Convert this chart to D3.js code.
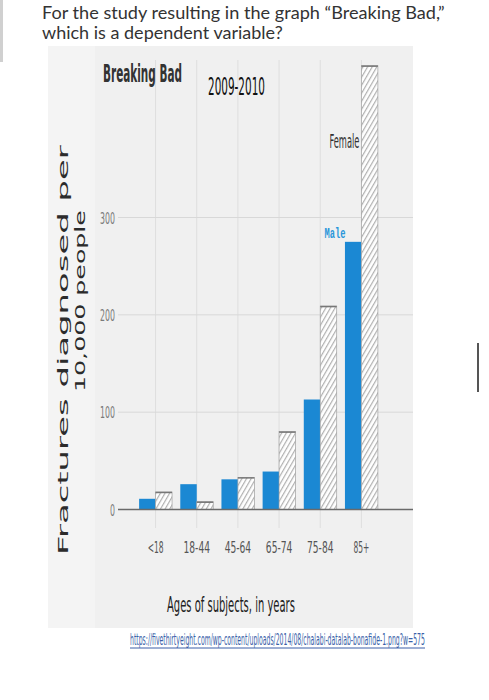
<!DOCTYPE html>
<html>
<head>
<meta charset="utf-8">
<script src="https://cdn.jsdelivr.net/npm/d3@7"></script>
<style>
  html, body { margin: 0; padding: 0; background: #ffffff; }
  svg { display: block; }
</style>
</head>
<body>
<div id="chart"></div>
<script>
// ---- data ----
const categories = ["<18", "18-44", "45-64", "65-74", "75-84", "85+"];
const maleValues = [11, 26, 31, 39, 113, 275];
const femaleValues = [18, 8, 33, 80, 209, 456];
const yTickValues = [0, 100, 200, 300];
const seriesNames = ["Male", "Female"];

const questionLines = [
  "For the study resulting in the graph \u201cBreaking Bad,\u201d",
  "which is a dependent variable?"
];
const chartTitle = "Breaking Bad";
const chartSubtitle = "2009-2010";
const yTitleLines = ["Fractures diagnosed per", "10,000 people"];
const xTitle = "Ages of subjects, in years";
const sourceUrl = "https://fivethirtyeight.com/wp-content/uploads/2014/08/chalabi-datalab-bonafide-1.png?w=575";

const rows = categories.map((c, i) => ({ cat: c, Male: maleValues[i], Female: femaleValues[i] }));

// ---- layout ----
const W = 489, H = 700;
const svg = d3.select("#chart").append("svg").attr("width", W).attr("height", H);

const narrow = "'DejaVu Sans Condensed', 'Liberation Sans', sans-serif";

// text helper: draw text then squeeze/stretch it horizontally to a target width
function fitText(parent, str, x, y, width, opts) {
  const o = Object.assign({ anchor: "start", family: narrow, size: 13, fill: "#333", weight: "normal", rotate: 0 }, opts || {});
  const t = parent.append("text")
    .attr("text-anchor", o.anchor)
    .attr("font-family", o.family)
    .attr("font-size", o.size)
    .attr("font-weight", o.weight)
    .attr("fill", o.fill)
    .text(str);
  const len = t.node().getComputedTextLength() || 1;
  const sx = width / len;
  t.attr("transform", `translate(${x},${y}) rotate(${o.rotate}) scale(${sx},1)`);
  return t;
}

const defs = svg.append("defs");
const pat = defs.append("pattern")
  .attr("id", "hatch").attr("patternUnits", "userSpaceOnUse")
  .attr("width", 4).attr("height", 4)
  .attr("patternTransform", "rotate(30)");
pat.append("rect").attr("width", 4).attr("height", 4).attr("fill", "#ffffff");
pat.append("rect").attr("x", 0).attr("y", 0).attr("width", 1.2).attr("height", 4).attr("fill", "#b0b0b0");

// page decorations
svg.append("rect").attr("x", 0).attr("y", 0).attr("width", 3).attr("height", 62).attr("fill", "#d0d0d0");
svg.append("rect").attr("x", 477).attr("y", 343).attr("width", 2).attr("height", 49).attr("fill", "#555");

// question text
const qWidths = [403, 241];
questionLines.forEach((line, i) => {
  fitText(svg, line, 42, 19 + i * 20, qWidths[i], { family: "Lato, 'Noto Sans', sans-serif", size: 17, fill: "#333" });
});

// image panel
svg.append("rect").attr("x", 48).attr("y", 46).attr("width", 365).attr("height", 582).attr("fill", "#f4f4f4");
svg.append("rect").attr("x", 95).attr("y", 46).attr("width", 318).attr("height", 582).attr("fill", "#f0f0f0");

// scales
const x = d3.scaleBand().domain(categories).range([135, 382]).padding(0);
const xSub = d3.scaleBand().domain(seriesNames).range([0, x.bandwidth()]).paddingInner(0).paddingOuter(0.25);
const y = d3.scaleLinear().domain([0, 300]).range([509.5, 217.5]);

// vertical gridlines
svg.append("g").selectAll("line").data(categories).join("line")
  .attr("x1", d => x(d) + x.bandwidth() / 2).attr("x2", d => x(d) + x.bandwidth() / 2)
  .attr("y1", 60).attr("y2", 528)
  .attr("stroke", "#dedede").attr("stroke-width", 1);

// horizontal gridlines
svg.append("g").selectAll("line").data(yTickValues.filter(v => v > 0)).join("line")
  .attr("x1", 118).attr("x2", 413)
  .attr("y1", d => y(d)).attr("y2", d => y(d))
  .attr("stroke", "#d8d8d8").attr("stroke-width", 1);

// y tick labels
const yTickG = svg.append("g");
yTickValues.forEach(v => {
  const s = String(v);
  fitText(yTickG, s, 115, y(v) + 6, s.length * 5, { anchor: "end", size: 16, fill: "#7a7a7a" });
});

// bars
const groups = svg.append("g").selectAll("g").data(rows).join("g")
  .attr("transform", d => `translate(${x(d.cat)},0)`);

groups.append("rect")
  .attr("x", xSub("Male")).attr("width", xSub.bandwidth())
  .attr("y", d => y(d.Male)).attr("height", d => y(0) - y(d.Male))
  .attr("fill", "#1b88d3");

groups.append("rect")
  .attr("x", xSub("Female")).attr("width", xSub.bandwidth())
  .attr("y", d => y(d.Female)).attr("height", d => y(0) - y(d.Female))
  .attr("fill", "url(#hatch)")
  .attr("stroke", "#a0a0a0").attr("stroke-width", 0.7);

groups.append("line")
  .attr("x1", xSub("Female")).attr("x2", xSub("Female") + xSub.bandwidth())
  .attr("y1", d => y(d.Female) + 0.5).attr("y2", d => y(d.Female) + 0.5)
  .attr("stroke", "#777").attr("stroke-width", 1.5);

// baseline
svg.append("line").attr("x1", 118).attr("x2", 413)
  .attr("y1", y(0)).attr("y2", y(0))
  .attr("stroke", "#6a6a6a").attr("stroke-width", 1.5);

// x tick labels
const xTickG = svg.append("g");
categories.forEach(c => {
  fitText(xTickG, c, x(c) + x.bandwidth() / 2, 553, c.length * 5.3, { anchor: "middle", size: 16, fill: "#555" });
});

// series labels
const last = rows[rows.length - 1];
fitText(svg, "Female", x(last.cat) + xSub("Female") - 2, 148, 30, { anchor: "end", size: 19, fill: "#333" });
fitText(svg, "Male", x(last.cat) + xSub("Female") - 16, 238, 21, {
  anchor: "end", family: "'Liberation Mono', 'DejaVu Sans Mono', monospace", weight: "bold", size: 15, fill: "#2a97da"
});

// chart title
fitText(svg, chartTitle, 103, 82, 79, { weight: "bold", size: 24, fill: "#333" });
fitText(svg, chartSubtitle, 208, 95, 57, { size: 24, fill: "#111" });

// y title
fitText(svg, yTitleLines[0], 68, 555, 410, { family: "'DejaVu Sans', Verdana, sans-serif", size: 14, fill: "#2b2b2b", rotate: -90 });
fitText(svg, yTitleLines[1], 85, 392, 182, { family: "'DejaVu Sans', Verdana, sans-serif", size: 14, fill: "#2b2b2b", rotate: -90 });

// x title
fitText(svg, xTitle, 167, 612, 128, { size: 22, fill: "#222" });

// source url
fitText(svg, sourceUrl, 130, 645, 295, { size: 16, fill: "#3a5fa8" });
svg.append("line").attr("x1", 130).attr("x2", 425).attr("y1", 648).attr("y2", 648)
  .attr("stroke", "#3a5fa8").attr("stroke-width", 1);
</script>
</body>
</html>
